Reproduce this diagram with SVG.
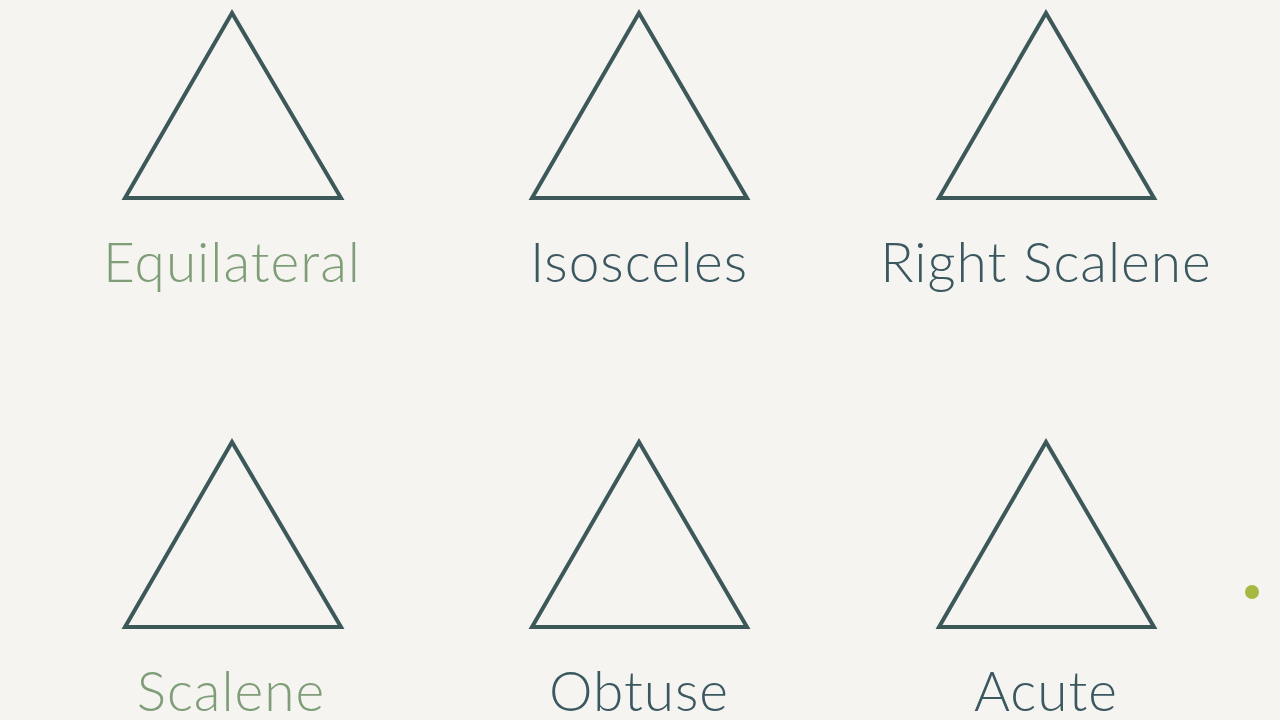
<svg xmlns="http://www.w3.org/2000/svg" width="1280" height="720" viewBox="0 0 1280 720">
<style>
.tri{fill:none;stroke:#3c5858;stroke-width:4;stroke-linejoin:miter}
.lbl{font-family:Lato,"Open Sans","Liberation Sans",sans-serif;font-size:55px;text-anchor:middle;font-weight:300;letter-spacing:1px}
.dark{fill:#3b5860}
.green{fill:#7f9e78}
</style>
<rect width="1280" height="720" fill="#f5f4f1"/>
<g id="equilateral"><polygon class="tri" points="232,13 125,198 341,198"/><text class="lbl green" x="232" y="282">Equilateral</text></g>
<g id="isosceles"><polygon class="tri" points="639,13 532,198 747,198"/><text class="lbl dark" x="639" y="282">Isosceles</text></g>
<g id="right-scalene"><polygon class="tri" points="1046,13 939,198 1154,198"/><text class="lbl dark" x="1046" y="282">Right Scalene</text></g>
<g id="scalene"><polygon class="tri" points="232,442 125,627 341,627"/><text class="lbl green" x="231" y="711">Scalene</text></g>
<g id="obtuse"><polygon class="tri" points="639,442 532,627 747,627"/><text class="lbl dark" x="639" y="711">Obtuse</text></g>
<g id="acute"><polygon class="tri" points="1046,442 939,627 1154,627"/><text class="lbl dark" x="1046" y="711">Acute</text></g>
<circle cx="1252" cy="592" r="7" fill="#a8b840"/>
<g id="connectors"/>
</svg>
